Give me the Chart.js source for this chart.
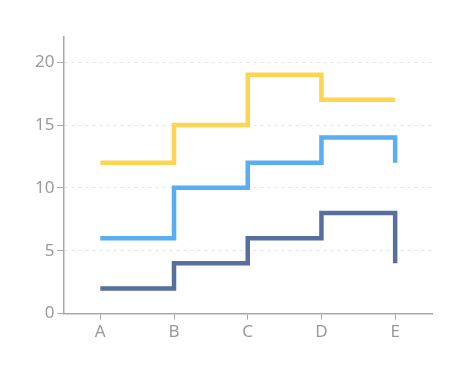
<!DOCTYPE html>
<html>
<head>
<meta charset="utf-8">
<script src="https://cdn.jsdelivr.net/npm/chart.js@4/dist/chart.umd.min.js"></script>
<style>
  html, body { margin: 0; padding: 0; background: #fff; }
  #wrap { width: 474px; height: 379px; }
</style>
</head>
<body>
<div id="wrap"><canvas id="chartSteps"></canvas></div>
<script>
var categories = ['A', 'B', 'C', 'D', 'E'];
var seriesTop = [12, 15, 19, 17, 17];
var seriesMiddle = [6, 10, 12, 14, 12];
var seriesBottom = [2, 4, 6, 8, 4];

var ctx = document.getElementById('chartSteps').getContext('2d');
var axisGray = '#a8a8a8';
var labelGray = '#9a9a9a';

function stepSet(values, color) {
    return {
        data: values,
        borderColor: color,
        backgroundColor: color,
        borderWidth: 4.5,
        stepped: 'before',
        pointRadius: 0,
        fill: false
    };
}

new Chart(ctx, {
    type: 'line',
    data: {
        labels: categories,
        datasets: [
            stepSet(seriesTop, '#fcd552'),
            stepSet(seriesMiddle, '#58aef0'),
            stepSet(seriesBottom, '#566f9e')
        ]
    },
    options: {
        responsive: true,
        maintainAspectRatio: false,
        animation: false,
        layout: { padding: { left: 32, right: 42, top: 37, bottom: 35 } },
        plugins: { legend: { display: false }, tooltip: { enabled: false } },
        scales: {
            x: {
                offset: true,
                grid: { drawOnChartArea: false, drawTicks: true, tickLength: 6, tickColor: axisGray, tickWidth: 1 },
                border: { color: axisGray, width: 1.5 },
                ticks: { color: labelGray, font: { family: 'Noto Sans', size: 17 }, padding: 2 }
            },
            y: {
                min: 0,
                max: 22,
                afterBuildTicks: function (axis) {
                    axis.ticks = axis.ticks.filter(function (t) { return t.value % 5 === 0; });
                },
                grid: { color: '#e4e4e4', lineWidth: 1, tickLength: 6, tickColor: axisGray, tickWidth: 1 },
                border: { color: axisGray, width: 1.5, dash: [3, 4] },
                ticks: { stepSize: 5, color: labelGray, font: { family: 'Noto Sans', size: 17 }, padding: 3 }
            }
        }
    }
});
</script>
</body>
</html>
